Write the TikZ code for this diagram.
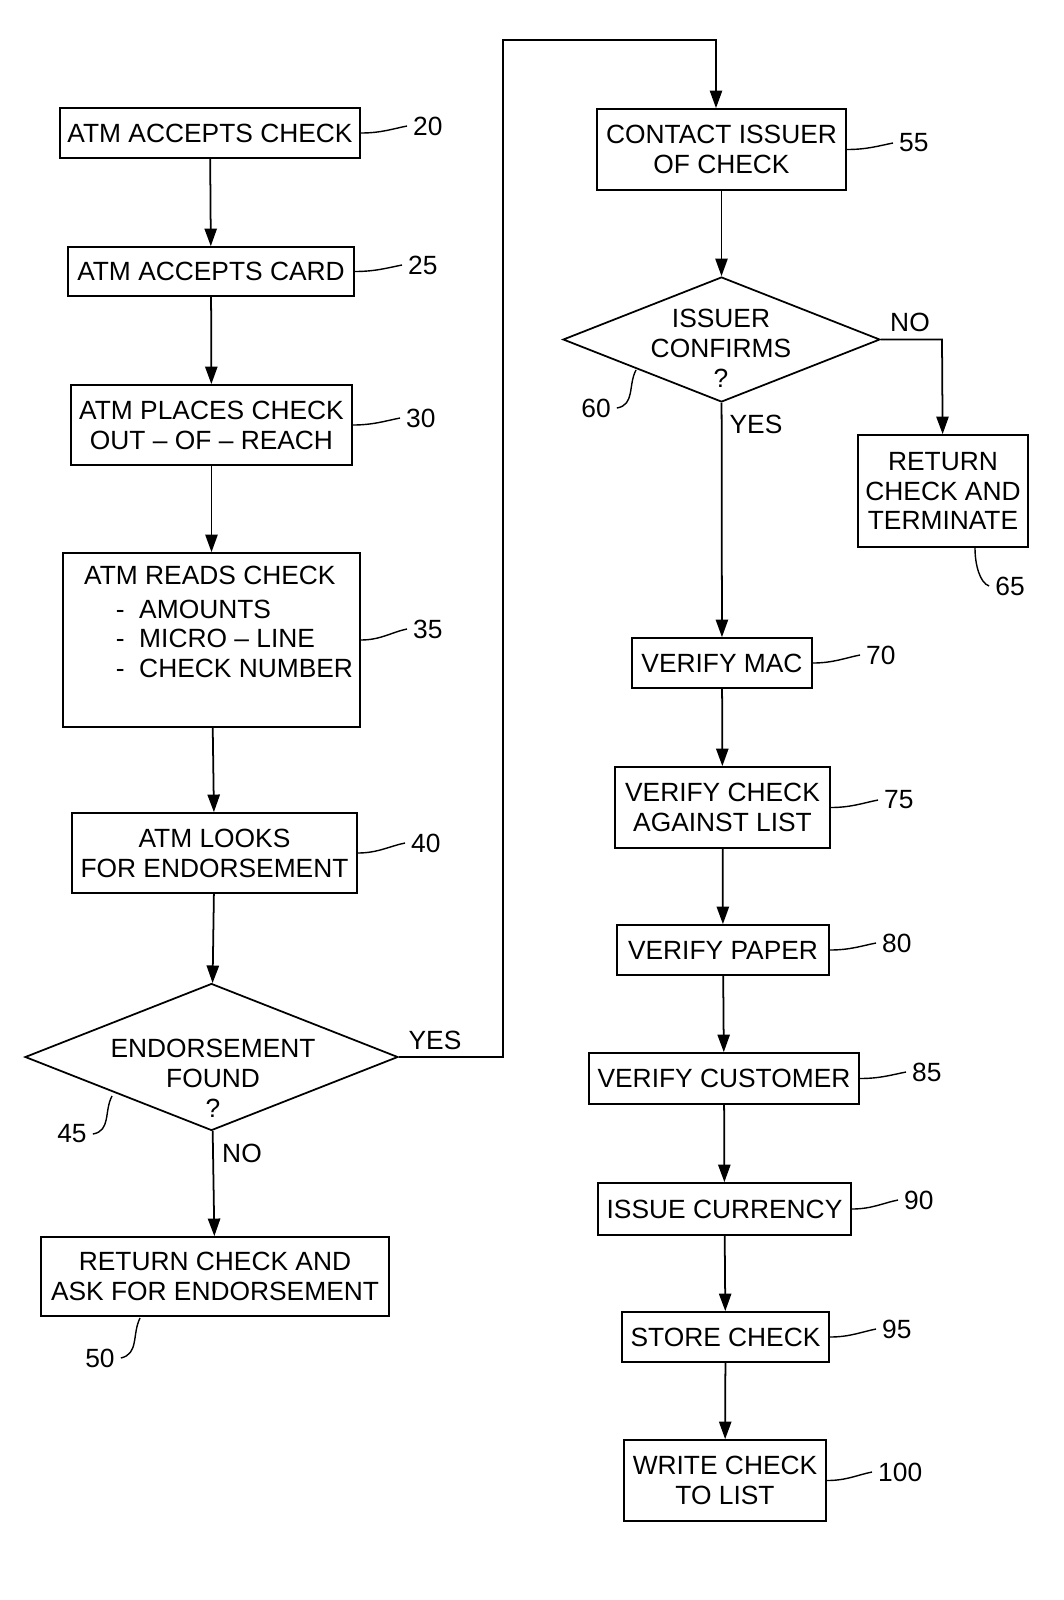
\documentclass[tikz,border=0pt]{standalone}
\usepackage{fontspec}
\setmainfont{Liberation Sans}
\usetikzlibrary{shapes.geometric,arrows.meta}
\begin{document}
\begin{tikzpicture}[x=0.02cm,y=-0.02cm,
  font=\fontsize{15}{17}\selectfont,
  bx/.style={draw,line width=1pt,inner sep=0pt,align=center},
  ar/.style={line width=1pt,-{Triangle[length=10pt,width=7pt]}},
  ln/.style={line width=0.8pt},
  lab/.style={font=\fontsize{15}{17}\selectfont}]
\useasboundingbox (0,0) rectangle (1063,1600);
\newcommand{\bxn}[6]{\node[bx,minimum width={(#4-#2)*0.02cm},minimum height={(#5-#3)*0.02cm}] (#1) at ({(#2+#4)/2},{(#3+#5)/2}) {#6};}
\bxn{b20}{60}{108}{360}{158}{ATM ACCEPTS CHECK}
\bxn{b25}{68}{247}{354}{296}{ATM ACCEPTS CARD}
\bxn{b30}{71}{385}{352}{465}{ATM PLACES CHECK\\OUT -- OF -- REACH}
\node[draw,line width=1pt,minimum width=5.94cm,minimum height=3.48cm] (b35) at (211.5,640) {};
\node[anchor=north west,align=left] (t35) at (78,560) {ATM READS CHECK\\[2pt]\hspace*{1.2em}-\ \ AMOUNTS\\\hspace*{1.2em}-\ \ MICRO -- LINE\\\hspace*{1.2em}-\ \ CHECK NUMBER};
\bxn{b40}{72}{813}{357}{893}{ATM LOOKS\\FOR ENDORSEMENT}
\node[draw,line width=1pt,diamond,aspect=2.54,minimum width=7.46cm,minimum height=2.94cm,inner sep=0pt] (d45) at (211.5,1057) {};
\node[align=center] at (213,1078) {ENDORSEMENT\\FOUND\\?};
\bxn{b50}{41}{1237}{389}{1316}{RETURN CHECK AND\\ASK FOR ENDORSEMENT}
\bxn{b55}{597}{109}{846}{190}{CONTACT ISSUER\\OF CHECK}
\node[draw,line width=1pt,diamond,aspect=2.54,minimum width=6.34cm,minimum height=2.5cm,inner sep=0pt] (d60) at (721.5,339.5) {};
\node[align=center] at (721,348) {ISSUER\\CONFIRMS\\?};
\bxn{b65}{858}{435}{1028}{547}{RETURN\\CHECK AND\\TERMINATE}
\bxn{b70}{632}{638}{812}{688}{VERIFY MAC}
\bxn{b75}{615}{767}{830}{848}{VERIFY CHECK\\AGAINST LIST}
\bxn{b80}{617}{925}{829}{975}{VERIFY PAPER}
\bxn{b85}{589}{1053}{859}{1104}{VERIFY CUSTOMER}
\bxn{b90}{598}{1183}{851}{1235}{ISSUE CURRENCY}
\bxn{b95}{622}{1312}{829}{1362}{STORE CHECK}
\bxn{b100}{624}{1440}{826}{1521}{WRITE CHECK\\TO LIST}
% arrows
\draw[ar] (b20) -- (b25);
\draw[ar] (b25) -- (b30);
\draw[ar] (b30) -- (b35);
\draw[ar] (b35) -- (b40);
\draw[ar] (b40) -- (d45);
\draw[ar] (d45) -- (b50);
\coordinate (y1) at (503,1057); \coordinate (y2) at (503,40); \coordinate (y3) at (716,40);
\draw[ar] (d45.east) -- (y1) -- (y2) -- (y3) -- (y3 |- b55.north);
\draw[ar] (b55) -- (d60);
\coordinate (n1) at (942,339.5);
\draw[ar] (d60.east) -- (n1) -- (b65);
\draw[ar] (d60) -- (b70);
\draw[ar] (b70) -- (b75);
\draw[ar] (b75) -- (b80);
\draw[ar] (b80) -- (b85);
\draw[ar] (b85) -- (b90);
\draw[ar] (b90) -- (b95);
\draw[ar] (b95) -- (b100);
\node at (435,1040) {YES};
\node at (242,1153) {NO};
\node at (910,322) {NO};
\node at (756,424) {YES};
% reference labels
\newcommand{\rl}[5]{\node[lab,anchor=west] (#1) at (#4,#5) {#1}; \draw[ln] (#2,#3) .. controls ({#2+15},#3) and ({#4-15},{#5+2}) .. (#4,#5);}
\node[lab,anchor=west] (l20) at (407,126) {20}; \draw[ln] (b20.east) .. controls +(20,0) and +(-15,3) .. (l20.west);
\node[lab,anchor=west] (l25) at (402,265) {25}; \draw[ln] (b25.east) .. controls +(20,0) and +(-15,3) .. (l25.west);
\node[lab,anchor=west] (l30) at (400,418) {30}; \draw[ln] (b30.east) .. controls +(20,0) and +(-15,3) .. (l30.west);
\node[lab,anchor=west] (l35) at (407,629) {35}; \draw[ln] (b35.east) .. controls +(20,0) and +(-15,3) .. (l35.west);
\node[lab,anchor=west] (l40) at (405,843) {40}; \draw[ln] (b40.east) .. controls +(20,0) and +(-15,3) .. (l40.west);
\node[lab,anchor=west] (l55) at (893,143) {55}; \draw[ln] (b55.east) .. controls +(20,0) and +(-15,3) .. (l55.west);
\node[lab,anchor=west] (l70) at (860,655) {70}; \draw[ln] (b70.east) .. controls +(20,0) and +(-15,3) .. (l70.west);
\node[lab,anchor=west] (l75) at (878,800) {75}; \draw[ln] (b75.east) .. controls +(20,0) and +(-15,3) .. (l75.west);
\node[lab,anchor=west] (l80) at (876,943) {80}; \draw[ln] (b80.east) .. controls +(20,0) and +(-15,3) .. (l80.west);
\node[lab,anchor=west] (l85) at (906,1072) {85}; \draw[ln] (b85.east) .. controls +(20,0) and +(-15,3) .. (l85.west);
\node[lab,anchor=west] (l90) at (898,1200) {90}; \draw[ln] (b90.east) .. controls +(20,0) and +(-15,3) .. (l90.west);
\node[lab,anchor=west] (l95) at (876,1329) {95}; \draw[ln] (b95.east) .. controls +(20,0) and +(-15,3) .. (l95.west);
\node[lab,anchor=west] (l100) at (872,1472) {100}; \draw[ln] (b100.east) .. controls +(20,0) and +(-15,3) .. (l100.west);
\node[lab] (l60) at (596,408) {60}; \coordinate (c60) at (636,370);
\draw[ln] (c60) .. controls (628,385) and (635,405) .. (l60.east);
\node[lab] (l45) at (72,1134) {45}; \coordinate (c45) at (112,1096);
\draw[ln] (c45) .. controls (104,1111) and (111,1131) .. (l45.east);
\node[lab] (l50) at (100,1358) {50}; \coordinate (c50) at (140,1318);
\draw[ln] (c50) .. controls (132,1334) and (139,1354) .. (l50.east);
\node[lab] (l65) at (1010,586) {65}; \coordinate (c65) at (975,548);
\draw[ln] (c65) .. controls (975,565) and (980,583) .. (l65.west);
\end{tikzpicture}
\end{document}
